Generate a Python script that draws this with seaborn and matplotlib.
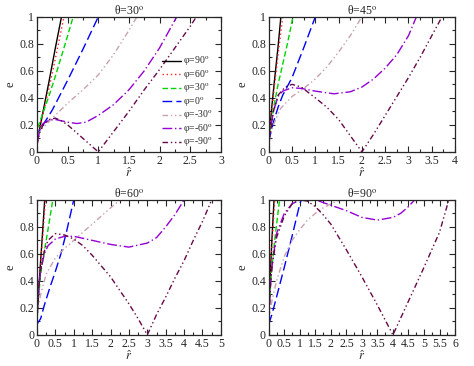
import numpy as np
import pandas as pd
import matplotlib
matplotlib.use("Agg")
import matplotlib.pyplot as plt
import seaborn as sns
from matplotlib.ticker import MultipleLocator, FormatStrFormatter

# panel settings
thetas = [30, 45, 60, 90]
x_max = [3, 4, 5, 6]
phis = [90, 60, 30, 0, -30, -60, -90]

# curves, (r_hat, e) pairs
# theta = 30
th30_p90 = [(0, 0.07), (0.1, 0.3), (0.2, 0.53), (0.3, 0.77), (0.4, 1.0)]
th30_p60 = [(0, 0.1), (0.1, 0.28), (0.2, 0.48), (0.3, 0.69), (0.44, 1.0)]
th30_p30 = [(0, 0.12), (0.02, 0.19), (0.1, 0.29), (0.2, 0.42), (0.3, 0.56), (0.4, 0.71), (0.5, 0.86), (0.59, 1.0)]
th30_p0 = [(0, 0.1), (0.05, 0.17), (0.1, 0.2), (0.25, 0.31), (0.5, 0.53), (0.75, 0.76), (1.0, 1.0)]
th30_m30 = [(0, 0.12), (0.1, 0.18), (0.25, 0.25), (0.5, 0.36), (0.75, 0.46), (1.0, 0.57), (1.25, 0.72), (1.5, 0.9), (1.63, 1.0)]
th30_m60 = [(0, 0.07), (0.05, 0.17), (0.1, 0.21), (0.2, 0.235), (0.3, 0.24), (0.4, 0.23), (0.5, 0.22), (0.65, 0.21),
            (0.8, 0.22), (1.0, 0.27), (1.25, 0.35), (1.5, 0.46), (1.75, 0.6), (2.0, 0.77), (2.28, 1.0)]
th30_m90 = [(0, 0.05), (0.05, 0.15), (0.1, 0.2), (0.2, 0.24), (0.3, 0.25), (0.4, 0.23), (0.5, 0.2), (0.6, 0.16),
            (0.75, 0.1), (0.9, 0.04), (1.0, 0.0), (1.25, 0.15), (1.5, 0.3), (1.75, 0.46), (2.0, 0.61), (2.25, 0.77),
            (2.5, 0.93), (2.6, 1.0)]

# theta = 45
th45_p90 = [(0, 0.08), (0.03, 0.2), (0.07, 0.35), (0.12, 0.52), (0.2, 0.78), (0.26, 1.0)]
th45_p60 = [(0, 0.1), (0.05, 0.25), (0.1, 0.42), (0.2, 0.72), (0.3, 1.0)]
th45_p30 = [(0, 0.1), (0.05, 0.2), (0.1, 0.32), (0.2, 0.5), (0.3, 0.65), (0.4, 0.8), (0.52, 1.0)]
th45_p0 = [(0, 0.08), (0.05, 0.15), (0.1, 0.22), (0.2, 0.33), (0.3, 0.42), (0.5, 0.55), (0.75, 0.77), (1.0, 1.0)]
th45_m30 = [(0, 0.08), (0.1, 0.2), (0.25, 0.32), (0.5, 0.41), (0.75, 0.47), (1.0, 0.54), (1.25, 0.63), (1.5, 0.74),
            (1.75, 0.86), (2.0, 1.0)]
th45_m60 = [(0, 0.08), (0.05, 0.2), (0.1, 0.3), (0.2, 0.41), (0.3, 0.45), (0.5, 0.475), (0.7, 0.47), (1.0, 0.45),
            (1.4, 0.43), (1.75, 0.445), (2.0, 0.48), (2.25, 0.54), (2.5, 0.62), (2.75, 0.72), (3.0, 0.86), (3.17, 1.0)]
th45_m90 = [(0, 0.05), (0.1, 0.3), (0.2, 0.42), (0.35, 0.48), (0.5, 0.5), (0.7, 0.48), (1.0, 0.4), (1.25, 0.33),
            (1.5, 0.24), (1.75, 0.12), (2.0, 0.0), (2.25, 0.13), (2.5, 0.27), (2.75, 0.41), (3.0, 0.55), (3.25, 0.7),
            (3.5, 0.86), (3.72, 1.0)]

# theta = 60
th60_p90 = [(0, 0.1), (0.05, 0.35), (0.1, 0.55), (0.15, 0.75), (0.21, 1.0)]
th60_p60 = [(0, 0.12), (0.05, 0.33), (0.1, 0.52), (0.15, 0.7), (0.23, 1.0)]
th60_p30 = [(0, 0.15), (0.05, 0.3), (0.1, 0.45), (0.2, 0.62), (0.3, 0.78), (0.43, 1.0)]
th60_p0 = [(0, 0.08), (0.1, 0.12), (0.2, 0.22), (0.35, 0.35), (0.5, 0.47), (0.65, 0.6), (0.8, 0.76), (1.0, 1.0)]
th60_m30 = [(0, 0.15), (0.1, 0.3), (0.25, 0.45), (0.5, 0.57), (0.75, 0.64), (1.0, 0.7), (1.25, 0.76), (1.5, 0.82),
            (1.75, 0.88), (2.0, 0.94), (2.26, 1.0)]
th60_m60 = [(0, 0.15), (0.05, 0.35), (0.1, 0.48), (0.2, 0.6), (0.3, 0.66), (0.5, 0.71), (0.75, 0.73), (1.0, 0.73),
            (1.5, 0.7), (2.0, 0.67), (2.5, 0.65), (3.0, 0.68), (3.25, 0.72), (3.5, 0.8), (3.75, 0.89), (4.0, 1.0)]
th60_m90 = [(0, 0.1), (0.05, 0.35), (0.1, 0.48), (0.2, 0.62), (0.3, 0.7), (0.5, 0.75), (0.75, 0.74), (1.0, 0.71),
            (1.25, 0.66), (1.5, 0.59), (1.75, 0.51), (2.0, 0.43), (2.25, 0.33), (2.5, 0.23), (2.75, 0.12), (3.0, 0.0),
            (3.25, 0.15), (3.5, 0.28), (3.75, 0.42), (4.0, 0.55), (4.25, 0.7), (4.5, 0.84), (4.75, 1.0)]

# theta = 90
th90_p90 = [(0, 0.15), (0.05, 0.45), (0.1, 0.7), (0.17, 1.0)]
th90_p60 = [(0, 0.15), (0.05, 0.42), (0.1, 0.65), (0.19, 1.0)]
th90_p30 = [(0, 0.15), (0.05, 0.35), (0.1, 0.5), (0.2, 0.72), (0.35, 1.0)]
th90_p0 = [(0, 0.08), (0.1, 0.15), (0.25, 0.28), (0.5, 0.5), (0.75, 0.73), (1.0, 0.97), (1.05, 1.0)]
th90_m30 = [(0, 0.1), (0.1, 0.25), (0.25, 0.4), (0.5, 0.58), (0.75, 0.7), (1.0, 0.78), (1.25, 0.85), (1.5, 0.9),
            (1.75, 0.94), (2.0, 0.97), (2.3, 1.0)]
th90_m60 = [(0, 0.1), (0.05, 0.35), (0.1, 0.5), (0.25, 0.75), (0.5, 0.9), (0.75, 0.97), (1.0, 1.0), (1.25, 1.01),
            (1.5, 1.0), (1.75, 0.98), (2.0, 0.96), (2.5, 0.92), (3.0, 0.87), (3.5, 0.85), (4.0, 0.87), (4.25, 0.9),
            (4.5, 0.95), (4.7, 1.0)]
th90_m90 = [(0, 0.1), (0.05, 0.35), (0.1, 0.5), (0.25, 0.72), (0.5, 0.88), (0.75, 0.97), (1.0, 1.0), (1.25, 0.99),
            (1.5, 0.95), (1.75, 0.89), (2.0, 0.82), (2.5, 0.63), (3.0, 0.43), (3.5, 0.22), (4.0, 0.0), (4.5, 0.25),
            (5.0, 0.5), (5.5, 0.76), (5.8, 1.0)]

curves = {
    30: [th30_p90, th30_p60, th30_p30, th30_p0, th30_m30, th30_m60, th30_m90],
    45: [th45_p90, th45_p60, th45_p30, th45_p0, th45_m30, th45_m60, th45_m90],
    60: [th60_p90, th60_p60, th60_p30, th60_p0, th60_m30, th60_m60, th60_m90],
    90: [th90_p90, th90_p60, th90_p30, th90_p0, th90_m30, th90_m60, th90_m90],
}

# line look for each phi
colors = ["black", "#ff2020", "#00d400", "#0000ff", "#c8a2ae", "#9400d3", "#670748"]
styles = ["-", (0, (1, 2)), (0, (4, 2)), (0, (7, 3)), (0, (4, 2, 1, 2, 1, 2)), (0, (7, 2, 1, 2)),
          (0, (4, 2, 1, 2, 1, 2))]

sns.set_style("ticks")
plt.rcParams["font.family"] = ["Liberation Serif", "DejaVu Serif"]
plt.rcParams["mathtext.fontset"] = "stix"
plt.rcParams["xtick.direction"] = "in"
plt.rcParams["ytick.direction"] = "in"

fig = plt.figure(figsize=(4.74, 3.66), dpi=100)
boxes = [
    [0.078, 0.585, 0.388, 0.369],
    [0.567, 0.585, 0.393, 0.369],
    [0.078, 0.085, 0.388, 0.369],
    [0.567, 0.085, 0.393, 0.369],
]

for i, theta in enumerate(thetas):
    ax = fig.add_axes(boxes[i])
    for j, phi in enumerate(phis):
        df = pd.DataFrame(curves[theta][j], columns=["r", "e"])
        sns.lineplot(data=df, x="r", y="e", ax=ax, color=colors[j], linestyle=styles[j], lw=1.0,
                     sort=False, estimator=None, label=f"φ={phi}$^{{\\rm o}}$" if i == 0 else None)

    ax.set_xlim(0, x_max[i])
    ax.set_ylim(0, 1)
    ax.xaxis.set_major_locator(MultipleLocator(0.5))
    ax.xaxis.set_minor_locator(MultipleLocator(0.25))
    ax.yaxis.set_major_locator(MultipleLocator(0.2))
    ax.yaxis.set_minor_locator(MultipleLocator(0.1))
    ax.xaxis.set_major_formatter(FormatStrFormatter("%g"))
    ax.yaxis.set_major_formatter(FormatStrFormatter("%g"))
    ax.tick_params(which="both", top=True, right=True, labelsize=8.5, pad=2, width=0.8)
    ax.tick_params(which="major", length=4)
    ax.tick_params(which="minor", length=2)
    for s in ax.spines.values():
        s.set_linewidth(0.9)
    ax.set_title(f"θ={theta}$^{{\\rm o}}$", fontsize=8.5, pad=2)
    ax.set_xlabel(r"$\hat{r}$", fontsize=9, labelpad=0)
    ax.set_ylabel("e", fontsize=9, labelpad=2)

    if i == 0:
        ax.legend(loc="upper left", bbox_to_anchor=(0.68, 0.72), frameon=False, fontsize=7,
                  handlelength=1.9, handletextpad=0.3, labelspacing=0.0, borderaxespad=0,
                  borderpad=0)
    else:
        leg = ax.get_legend()
        if leg is not None:
            leg.remove()

fig.savefig("out.png", dpi=100)
